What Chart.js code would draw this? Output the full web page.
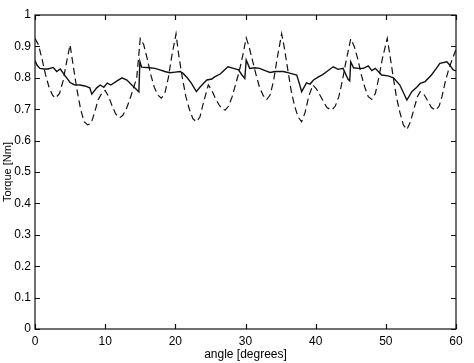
<!DOCTYPE html>
<html>
<head>
<meta charset="utf-8">
<script src="https://cdn.jsdelivr.net/npm/chart.js@4/dist/chart.umd.min.js"></script>
<style>
  html, body { margin: 0; padding: 0; background: #fff; }
  #wrap { width: 474px; height: 363px; }
</style>
</head>
<body>
<div id="wrap"><canvas id="grafico"></canvas></div>
<script>
// solid curve (angle in degrees, torque in Nm)
const solidAngle = [0, 0.3, 0.7, 1.3, 1.85, 2.6, 3.1, 3.6, 4.3, 5, 5.6, 6.4, 7.1, 7.8, 8.1, 8.8, 9.3, 9.8, 10.3, 10.8, 11.7, 12.4, 13.1, 13.8, 14.5, 14.8, 14.95, 15.2,
  16.4, 17.1, 17.8, 18.5, 19.2, 20.0, 20.7, 21.1, 21.7, 22.3, 23.0, 23.5, 24, 24.5, 25.2, 25.6, 26.4, 27.0, 27.5, 28.3, 29.0, 29.5, 29.9, 30.1, 30.6,
  31.3, 32, 32.8, 33.5, 34.2, 35.4, 36.3, 37.3, 37.7, 38.0, 38.7, 39.2, 39.7, 40.4, 41, 41.6, 42.5, 43.2, 43.9, 44.6, 44.85, 45.0, 45.4,
  46.1, 46.8, 47.5, 48, 48.5, 49.4, 50.3, 51.1, 52, 53, 53.7, 54.4, 54.9, 55.6, 56.5, 57.2, 57.7, 58.7, 59.1, 59.6, 60];
const solidTorque = [0.855, 0.84, 0.83, 0.828, 0.828, 0.833, 0.82, 0.828, 0.806, 0.785, 0.778, 0.777, 0.774, 0.768, 0.748, 0.768, 0.777, 0.77, 0.783, 0.777, 0.79, 0.80, 0.793, 0.777, 0.762, 0.755, 0.852, 0.834,
  0.832, 0.83, 0.825, 0.82, 0.816, 0.818, 0.82, 0.814, 0.80, 0.782, 0.756, 0.77, 0.782, 0.793, 0.796, 0.803, 0.812, 0.825, 0.835, 0.83, 0.825, 0.809, 0.798, 0.857, 0.83,
  0.832, 0.83, 0.823, 0.817, 0.82, 0.82, 0.815, 0.809, 0.78, 0.756, 0.784, 0.78, 0.793, 0.803, 0.81, 0.82, 0.835, 0.827, 0.83, 0.796, 0.79, 0.851, 0.832,
  0.83, 0.83, 0.838, 0.823, 0.83, 0.809, 0.806, 0.80, 0.777, 0.729, 0.756, 0.77, 0.782, 0.788, 0.809, 0.83, 0.846, 0.851, 0.841, 0.825, 0.822];

// dashed curve
const dashedAngle = [0, 0.5, 1, 1.5, 2, 2.5, 2.9, 3.5, 4, 4.5, 5, 5.5, 6, 6.5, 7, 7.5, 8, 8.5, 9, 9.5, 10, 10.5, 11, 11.5, 12, 12.5, 13, 13.5, 14, 14.5, 15,
  15.5, 16, 16.5, 17, 17.5, 18, 18.5, 19, 19.5, 20.1, 20.5, 21, 21.5, 22, 22.5, 23, 23.5, 24, 24.7, 25.2, 25.7, 26.2, 26.7, 27.1, 27.6, 28.1, 28.6, 29.1, 29.6, 30.1,
  30.5, 31, 31.5, 32, 32.5, 33, 33.5, 34, 34.5, 35.15, 35.5, 36, 36.5, 37, 37.5, 38, 38.5, 39, 39.6, 40.1, 40.6, 41.1, 41.6, 42.3, 42.8, 43.3, 43.8, 44.3, 45.0,
  45.5, 46, 46.5, 47, 47.5, 48, 48.5, 49, 49.5, 50.2, 50.6, 51, 51.5, 52, 52.5, 53, 53.5, 54, 54.5, 54.9, 55.5, 56, 56.5, 57.1, 57.6, 58, 58.5, 59, 59.6, 60];
const dashedTorque = [0.925, 0.905, 0.86, 0.81, 0.77, 0.745, 0.735, 0.75, 0.79, 0.85, 0.905, 0.83, 0.76, 0.70, 0.66, 0.65, 0.655, 0.69, 0.73, 0.75, 0.76, 0.74, 0.71, 0.685, 0.672, 0.68, 0.70, 0.73, 0.765, 0.80, 0.925,
  0.905, 0.86, 0.81, 0.77, 0.745, 0.735, 0.75, 0.80, 0.87, 0.94, 0.87, 0.80, 0.74, 0.70, 0.67, 0.66, 0.675, 0.72, 0.777, 0.76, 0.735, 0.715, 0.70, 0.697, 0.71, 0.74, 0.78, 0.82, 0.87, 0.927,
  0.90, 0.855, 0.81, 0.77, 0.745, 0.73, 0.745, 0.79, 0.86, 0.94, 0.90, 0.83, 0.76, 0.71, 0.675, 0.66, 0.69, 0.74, 0.777, 0.765, 0.745, 0.725, 0.705, 0.697, 0.71, 0.74, 0.79, 0.85, 0.924,
  0.90, 0.86, 0.81, 0.77, 0.74, 0.731, 0.75, 0.80, 0.86, 0.926, 0.87, 0.81, 0.74, 0.69, 0.65, 0.635, 0.66, 0.70, 0.74, 0.756, 0.745, 0.725, 0.705, 0.697, 0.71, 0.74, 0.79, 0.83, 0.867, 0.89];

const xTicks = [0, 10, 20, 30, 40, 50, 60];
const yTicks = [0, 0.1, 0.2, 0.3, 0.4, 0.5, 0.6, 0.7, 0.8, 0.9, 1];

function toPoints(xs, ys) {
    return xs.map((x, i) => ({ x: x, y: ys[i] }));
}

// caja cerrada con marcas hacia dentro (estilo matlab)
const marcoPlugin = {
    id: 'marco',
    afterDraw(chart) {
        const ctx = chart.ctx;
        const a = chart.chartArea;
        const sx = chart.scales.x, sy = chart.scales.y;
        ctx.save();
        ctx.strokeStyle = '#111';
        ctx.lineWidth = 1.2;
        ctx.strokeRect(a.left, a.top, a.right - a.left, a.bottom - a.top);
        ctx.beginPath();
        xTicks.forEach(v => {
            const px = Math.round(sx.getPixelForValue(v)) + 0.5;
            ctx.moveTo(px, a.bottom); ctx.lineTo(px, a.bottom - 5);
            ctx.moveTo(px, a.top); ctx.lineTo(px, a.top + 5);
        });
        yTicks.forEach(v => {
            const py = Math.round(sy.getPixelForValue(v)) + 0.5;
            ctx.moveTo(a.left, py); ctx.lineTo(a.left + 5, py);
            ctx.moveTo(a.right, py); ctx.lineTo(a.right - 5, py);
        });
        ctx.stroke();
        ctx.restore();
    }
};

const fuente = { family: 'Liberation Sans, Arial, sans-serif', size: 12 };

new Chart(document.getElementById('grafico').getContext('2d'), {
    type: 'line',
    data: {
        datasets: [{
            data: toPoints(solidAngle, solidTorque),
            borderColor: '#111',
            borderWidth: 1.4,
            pointRadius: 0,
            tension: 0
        }, {
            data: toPoints(dashedAngle, dashedTorque),
            borderColor: '#111',
            borderWidth: 1.2,
            borderDash: [7, 4],
            pointRadius: 0,
            tension: 0
        }]
    },
    options: {
        responsive: true,
        maintainAspectRatio: false,
        animation: false,
        layout: { padding: { top: 15, right: 18, left: 0, bottom: 0 } },
        plugins: { legend: { display: false }, tooltip: { enabled: false } },
        scales: {
            x: {
                type: 'linear',
                min: 0, max: 60,
                afterBuildTicks: s => { s.ticks = xTicks.map(v => ({ value: v })); },
                afterFit: s => { s.height = 34; },
                grid: { display: false, drawTicks: false },
                border: { display: false },
                ticks: { color: '#000', font: fuente, padding: 5, maxRotation: 0 },
                title: { display: true, text: 'angle [degrees]', color: '#000', font: { family: fuente.family, size: 12 }, padding: { top: 0, bottom: 1 } }
            },
            y: {
                min: 0, max: 1,
                afterBuildTicks: s => { s.ticks = yTicks.map(v => ({ value: v })); },
                afterFit: s => { s.width = 35; },
                grid: { display: false, drawTicks: false },
                border: { display: false },
                ticks: { color: '#000', font: fuente, padding: 4, callback: v => String(v) },
                title: { display: true, text: 'Torque [Nm]', color: '#000', font: { family: fuente.family, size: 11 }, padding: { top: 1, bottom: 0 } }
            }
        }
    },
    plugins: [marcoPlugin]
});
</script>
</body>
</html>
